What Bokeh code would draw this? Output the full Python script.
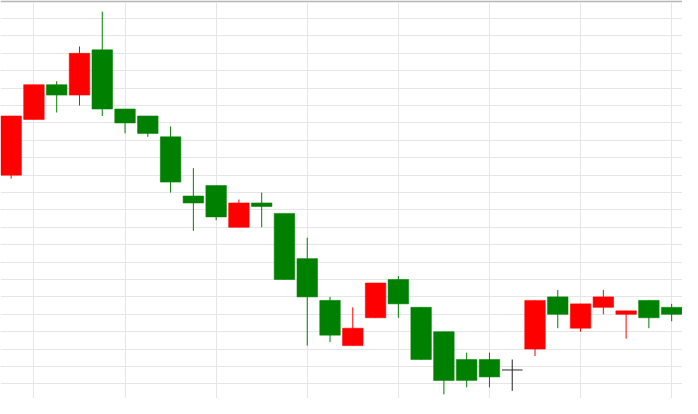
import numpy as np
from bokeh.models import ColumnDataSource, FixedTicker, Range1d
from bokeh.plotting import figure
from bokeh.embed import file_html
from bokeh.resources import INLINE

# daily candles
opens = [30.0, 33.2, 35.2, 34.6, 37.2, 33.8, 33.4, 32.2, 28.8, 29.4,
         27.0, 28.4, 27.8, 25.2, 22.8, 20.2, 21.8, 24.0, 22.4, 21.0,
         19.4, 19.4, 18.8, 20.0, 23.0, 21.2, 22.4, 22.0, 22.8, 22.4]
highs = [33.4, 35.2, 35.4, 37.4, 39.4, 33.8, 33.4, 32.8, 30.4, 29.4,
         28.6, 29.0, 27.8, 26.4, 23.0, 22.4, 23.8, 24.2, 22.4, 21.0,
         19.8, 19.8, 19.4, 22.8, 23.4, 22.6, 23.4, 22.2, 22.8, 22.6]
lows = [29.8, 33.2, 33.6, 34.0, 33.4, 32.4, 32.2, 29.0, 26.8, 27.4,
        27.0, 27.0, 24.0, 20.2, 20.4, 20.2, 21.8, 21.8, 19.4, 17.4,
        17.8, 17.8, 17.6, 19.6, 21.2, 21.0, 22.0, 20.6, 21.2, 21.6]
closes = [33.4, 35.2, 34.6, 37.0, 33.8, 33.0, 32.4, 29.6, 28.4, 27.6,
          28.4, 28.2, 24.0, 23.0, 20.8, 21.2, 23.8, 22.6, 19.4, 18.2,
          18.2, 18.4, 18.8, 22.8, 22.0, 22.6, 23.0, 22.2, 21.8, 22.0]

grid_prices = list(range(18, 41))
grid_days = list(range(1, 30, 4))

UP, DOWN, FLAT = "#ff0000", "#008000", "#222222"

o = np.array(opens)
c = np.array(closes)
colors = [UP if cc > oo else DOWN if cc < oo else FLAT for oo, cc in zip(o, c)]

source = ColumnDataSource(data=dict(
    day=list(range(len(opens))),
    high=highs, low=lows,
    top=np.maximum(o, c), bottom=np.minimum(o, c),
    color=colors,
))

p = figure(width=682, height=398, output_backend="svg", toolbar_location=None,
           x_range=Range1d(-0.468, 29.476), y_range=Range1d(17.16, 39.923),
           min_border=0, min_border_top=2, border_fill_color="#b5b5b5",
           outline_line_color=None, background_fill_color="white")

p.segment(x0="day", y0="high", x1="day", y1="low", source=source,
          line_color="color", line_width=1)
p.vbar(x="day", width=0.9, top="top", bottom="bottom", source=source,
       fill_color="color", line_color="color", line_alpha=0.55)

p.xaxis.ticker = FixedTicker(ticks=grid_days)
p.yaxis.ticker = FixedTicker(ticks=grid_prices)
p.axis.visible = False
p.grid.grid_line_color = "#e6e6e6"
p.grid.grid_line_width = 1
p.grid.level = "underlay"

open("out.html", "w").write(file_html(p, INLINE))
